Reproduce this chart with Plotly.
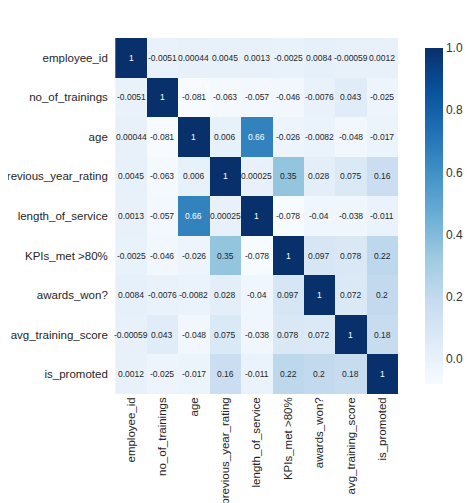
import plotly.graph_objects as go

labels = ['employee_id', 'no_of_trainings', 'age', 'previous_year_rating',
          'length_of_service', 'KPIs_met >80%', 'awards_won?',
          'avg_training_score', 'is_promoted']

corr = [
    [1, -0.0051, 0.00044, 0.0045, 0.0013, -0.0025, 0.0084, -0.00059, 0.0012],
    [-0.0051, 1, -0.081, -0.063, -0.057, -0.046, -0.0076, 0.043, -0.025],
    [0.00044, -0.081, 1, 0.006, 0.66, -0.026, -0.0082, -0.048, -0.017],
    [0.0045, -0.063, 0.006, 1, 0.00025, 0.35, 0.028, 0.075, 0.16],
    [0.0013, -0.057, 0.66, 0.00025, 1, -0.078, -0.04, -0.038, -0.011],
    [-0.0025, -0.046, -0.026, 0.35, -0.078, 1, 0.097, 0.078, 0.22],
    [0.0084, -0.0076, -0.0082, 0.028, -0.04, 0.097, 1, 0.072, 0.2],
    [-0.00059, 0.043, -0.048, 0.075, -0.038, 0.078, 0.072, 1, 0.18],
    [0.0012, -0.025, -0.017, 0.16, -0.011, 0.22, 0.2, 0.18, 1],
]

fig = go.Figure(go.Heatmap(
    z=corr, x=labels, y=labels, colorscale='Blues', zmin=-0.081, zmax=1,
    colorbar=dict(thickness=18, len=1.0, y=0.5, yanchor='middle', x=1.06,
                  tickvals=[0, 0.2, 0.4, 0.6, 0.8, 1.0],
                  ticktext=['0.0', '0.2', '0.4', '0.6', '0.8', '1.0'],
                  ticks='', outlinewidth=0, tickfont=dict(size=12, color='#333')),
))

for i, row in enumerate(corr):
    for j, v in enumerate(row):
        fig.add_annotation(x=labels[j], y=labels[i], text=f'{v:g}', showarrow=False,
                           font=dict(size=8.5, color='white' if v > 0.5 else '#262626'))

fig.update_xaxes(tickangle=-90, showgrid=False, ticks='', automargin=False,
                 tickfont=dict(size=11.5, color='#262626'))
fig.update_yaxes(autorange='reversed', showgrid=False, ticks='', ticksuffix=' ',
                 automargin=False, tickfont=dict(size=11.5, color='#262626'))
fig.update_layout(width=474, height=503, margin=dict(l=104, r=54, t=30, b=117),
                  plot_bgcolor='white', paper_bgcolor='white',
                  font=dict(family='Liberation Sans, Arial'))
fig.write_html('out.html')
